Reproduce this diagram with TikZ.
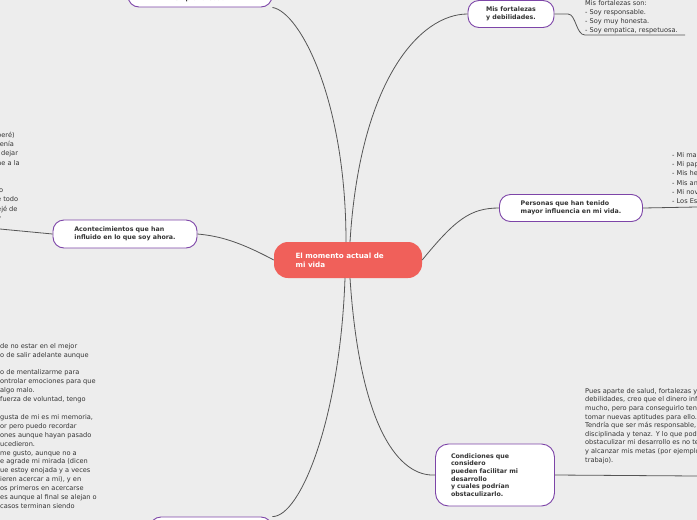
\documentclass[tikz,border=0pt]{standalone}
\usepackage{fontspec}
\setmainfont{DejaVu Sans}
\definecolor{bg}{HTML}{EDEDED}
\definecolor{pur}{HTML}{7D45A8}
\definecolor{ln}{HTML}{555555}
\definecolor{tx}{HTML}{333333}
\definecolor{ctr}{HTML}{F0605A}
\begin{document}
\begin{tikzpicture}[x=1pt,y=-1pt,
  topic/.style={draw=pur,line width=0.9pt,fill=white,rounded corners=11pt,font=\fontsize{6.3}{7.6}\selectfont\bfseries,text=tx,align=left,inner sep=0pt},
  conn/.style={draw=ln,line width=0.8pt},
  body/.style={font=\fontsize{6.6}{9.2}\selectfont,text=tx,align=left,inner sep=0pt}]
\useasboundingbox (0,0) rectangle (697,520);
\clip (0,0) rectangle (697,520);
\fill[bg] (0,0) rectangle (697,520);
% center
\node[fill=ctr,rounded corners=14pt,minimum width=148pt,minimum height=36pt,inner sep=0pt] (c) at (348,260) {};
\node[font=\fontsize{7.2}{9}\selectfont\bfseries,text=white,align=left,anchor=west] (ct) at (292,260) {El momento actual de\\mi vida};
% topic nodes
\node[topic,minimum width=144pt,minimum height=24pt,align=center] (tl) at (200,-5) {};
\node[font=\fontsize{6.3}{7.6}\selectfont\bfseries,text=tx,inner sep=0pt] (tlt) at (200,-1) {temprana edad.};
\node[topic,minimum width=86pt,minimum height=27pt,align=center] (mf) at (511,14) {Mis fortalezas\\y debilidades.};
\node[topic,minimum width=144pt,minimum height=28pt] (ac) at (125,234) {Acontecimientos que han\\influido en lo que soy ahora.};
\node[topic,minimum width=143pt,minimum height=27pt] (pe) at (571,208) {Personas que han tenido\\mayor influencia en mi vida.};
\node[topic,minimum width=119pt,minimum height=62pt,rounded corners=13pt,text width=88pt] (co) at (495,475) {Condiciones que\\considero\\pueden facilitar mi\\desarrollo\\y cuales podrían\\obstaculizarlo.};
\node[topic,minimum width=122pt,minimum height=24pt] (bl) at (211,529) {};
% connectors from center
\draw[conn] (346,242) .. controls (346,100) and (300,12) .. (tl.south east);
\draw[conn] (350,242) .. controls (360,80) and (420,14) .. (mf.west);
\draw[conn] (c.west) .. controls (240,242) and (220,236) .. (ac.east);
\draw[conn] (c.east) .. controls (455,220) and (470,208) .. (pe.west);
\draw[conn] (350,278) .. controls (360,430) and (400,477) .. (co.west);
\draw[conn] (345,278) .. controls (340,420) and (300,517) .. (bl.north east);
% sub branches
\coordinate (mfa) at (585,35);
\draw[conn] (mf.east) -- (568,14) .. controls (576,14) and (576,35) .. (mfa) -- (685,35);
\node[body,anchor=north west] (mft) at (585,0) {Mis fortalezas son:\\- Soy responsable.\\- Soy muy honesta.\\- Soy empatica, respetuosa.};
\coordinate (pea) at (697,207);
\draw[conn] (pe.east) -- (pea);
\node[body,anchor=north west] (pet) at (672,152) {- Mi mamá\\- Mi papá\\- Mis hermanos\\- Mis amigos\\- Mi novio\\- Los Es};
\coordinate (aca) at (0,229);
\draw[conn] (ac.west) -- (aca);
\node[body,anchor=north west] (act) at (-3,132) {peré)\\tenía\\í dejar\\ne a la\\\\\\lo\\e todo\\ejé de\\ y};
\coordinate (coa) at (697,476);
\draw[conn] (co.east) -- (coa);
\node[body,anchor=north west,font=\fontsize{6.6}{8.6}\selectfont] (cot) at (585,388) {Pues aparte de salud, fortalezas y\\debilidades, creo que el dinero influye\\mucho, pero para conseguirlo tendría que\\tomar nuevas aptitudes para ello.\\Tendría que ser más responsable,\\disciplinada y tenaz. Y lo que podría\\obstaculizar mi desarrollo es no tener\\y alcanzar mis metas (por ejemplo, el\\trabajo).};
\node[body,anchor=north west,font=\fontsize{6.6}{8.9}\selectfont] (blt) at (0,343) {de no estar en el mejor\\o de salir adelante aunque\\\\o de mentalizarme para\\ontrolar emociones para que\\algo malo.\\fuerza de voluntad, tengo\\\\gusta de mi es mi memoria,\\or pero puedo recordar\\ones aunque hayan pasado\\ucedieron.\\me gusto, aunque no a\\e agrade mi mirada (dicen\\ue estoy enojada y a veces\\ieren acercar a mi), y en\\os primeros en acercarse\\es aunque al final se alejan o\\casos terminan siendo};
\end{tikzpicture}
\end{document}
